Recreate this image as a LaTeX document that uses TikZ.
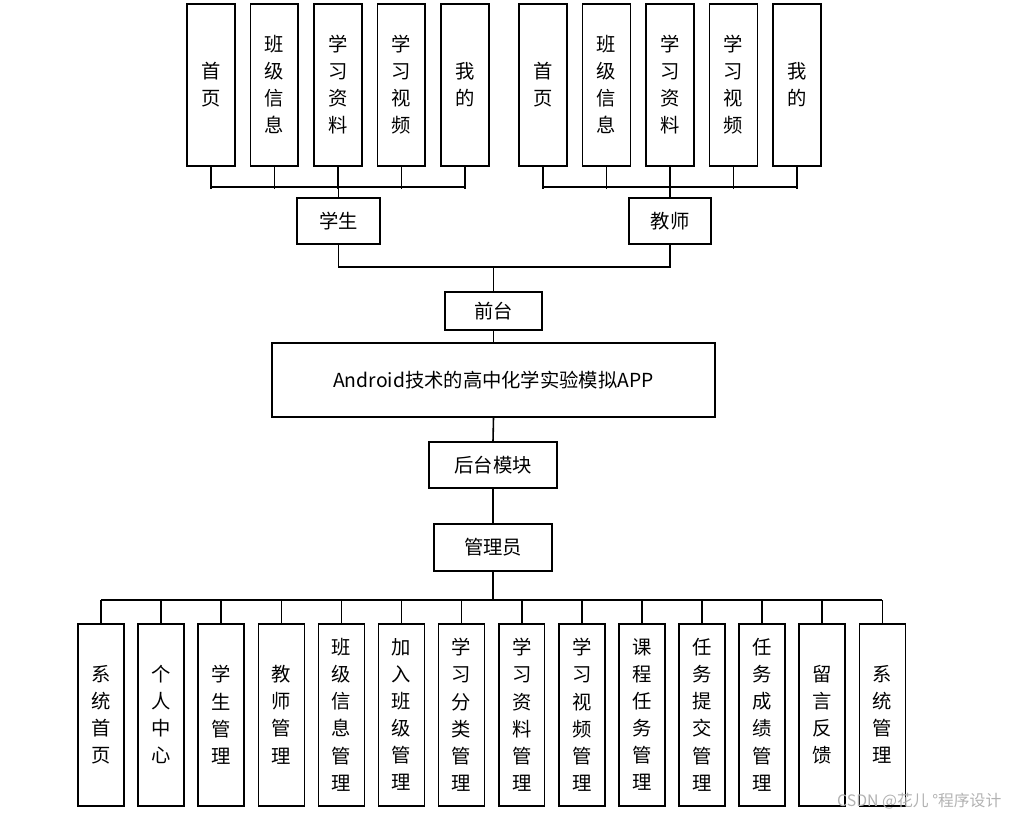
\documentclass[tikz,border=0pt]{standalone}
\usepackage{fontspec}
\setmainfont{Noto Sans CJK SC}
\begin{document}
\begin{tikzpicture}[x=0.02cm,y=-0.02cm,line width=0.9pt,
  bx/.style={draw,fill=white,inner sep=0pt,align=center,font=\fontsize{11}{15.4}\selectfont},
  ln/.style={draw}]
\useasboundingbox (0,0) rectangle (1013,819);
% top groups
\foreach \t [count=\i] in {首\\页,班\\级\\信\\息,学\\习\\资\\料,学\\习\\视\\频,我\\的}{
  \pgfmathsetmacro\xl{186+63.5*(\i-1)}
  \pgfmathsetmacro\xr{518+63.5*(\i-1)}
  \node[bx,minimum width=0.96cm,minimum height=3.24cm,anchor=north west] (L\i) at (\xl,3) {\t};
  \node[bx,minimum width=0.96cm,minimum height=3.24cm,anchor=north west] (R\i) at (\xr,3) {\t};
  \draw (L\i.south) -- ++(0,22);
  \draw (R\i.south) -- ++(0,22);
}
\coordinate (lb1) at (L1.south|-0,187); \coordinate (lb5) at (L5.south|-0,187);
\coordinate (rb1) at (R1.south|-0,187); \coordinate (rb5) at (R5.south|-0,187);
\draw (lb1) -- (lb5); \draw (rb1) -- (rb5);
\node[bx,minimum width=1.66cm,minimum height=0.92cm] (stu) at (338.5,221) {学生};
\node[bx,minimum width=1.64cm,minimum height=0.92cm] (tea) at (670,221) {教师};
\draw (stu.north) -- (stu.north|-0,187);
\draw (tea.north) -- (tea.north|-0,187);
\node[bx,minimum width=1.94cm,minimum height=0.76cm] (qt) at (493.5,311) {前台};
\draw (stu.south) -- (stu.south|-0,267) -- (tea.south|-0,267) -- (tea.south);
\draw (qt.north) -- (qt.north|-0,267);
\node[bx,minimum width=8.86cm,minimum height=1.48cm] (main) at (493.5,380) {Android技术的高中化学实验模拟APP};
\draw (qt.south) -- (main.north);
\node[bx,minimum width=2.56cm,minimum height=0.92cm] (ht) at (493,465) {后台模块};
\draw (main.south) -- (ht.north);
\node[bx,minimum width=2.36cm,minimum height=0.94cm] (adm) at (493,547.5) {管理员};
\draw (ht.south) -- (adm.north);
\draw (adm.south) -- (493,600);
\foreach \t [count=\i] in {系\\统\\首\\页,个\\人\\中\\心,学\\生\\管\\理,教\\师\\管\\理,班\\级\\信\\息\\管\\理,加\\入\\班\\级\\管\\理,学\\习\\分\\类\\管\\理,学\\习\\资\\料\\管\\理,学\\习\\视\\频\\管\\理,课\\程\\任\\务\\管\\理,任\\务\\提\\交\\管\\理,任\\务\\成\\绩\\管\\理,留\\言\\反\\馈,系\\统\\管\\理}{
  \pgfmathsetmacro\xc{101+60.1*(\i-1)}
  \node[bx,minimum width=0.92cm,minimum height=3.64cm,anchor=north] (B\i) at (\xc,623) {\t};
  \draw (B\i.north) -- (B\i.north|-0,600);
}
\draw (B1.north|-0,600) -- (B14.north|-0,600);
\node[text=gray!60,font=\fontsize{9}{10}\selectfont,anchor=east] (wm) at (1008,801) {CSDN @花儿 °程序设计};
\end{tikzpicture}
\end{document}
